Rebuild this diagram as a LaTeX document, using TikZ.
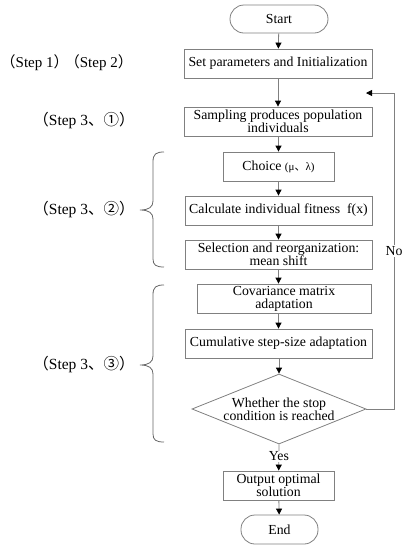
\documentclass[tikz,border=0pt]{standalone}
\usepackage{fontspec}
\setmainfont{Liberation Serif}
\newfontfamily\cjk{Noto Sans CJK SC}
\usetikzlibrary{arrows.meta,shapes.geometric}
\begin{document}
\begin{tikzpicture}[x=1pt,y=-1pt,
  font=\fontsize{13.8}{15}\selectfont,
  ln/.style={draw=black!50, line width=0.8pt},
  arr/.style={ln, -{Triangle[length=6pt,width=6pt,color=black]}},
  boxn/.style={draw=black!50, line width=0.8pt, rectangle, inner sep=0pt, minimum height=29pt, align=center},
  term/.style={draw=black!50, line width=0.8pt, rectangle, rounded corners=14pt, inner sep=0pt, minimum height=28pt},
  side/.style={inner sep=0pt, font=\fontsize{15.5}{17}\selectfont},
  brc/.style={draw=black!60, line width=0.8pt}
]
\useasboundingbox (0,0) rectangle (406,550);

\node[term, minimum width=98pt] (start) at (279,19) {Start};
\node[boxn, minimum width=188pt] (init) at (278,63.5) {Set parameters and Initialization};
\node[boxn, minimum width=188pt] (samp) at (278,121.5) {Sampling produces population\\[-2pt]individuals};
\node[boxn, minimum width=111pt] (choice) at (278.5,166.5) {Choice {\fontsize{11}{12}\selectfont(μ{\cjk 、}λ)}};
\node[boxn, minimum width=187pt] (calc) at (278.5,210.5) {Calculate individual fitness\ \ f(x)};
\node[boxn, minimum width=187pt] (sel) at (278.5,254.5) {Selection and reorganization:\\[-2pt]mean shift};
\node[boxn, minimum width=174pt] (cov) at (284,298.5) {Covariance matrix\\[-2pt]adaptation};
\node[boxn, minimum width=187pt] (cum) at (278.5,343.5) {Cumulative step-size adaptation};
\node[diamond, draw=black!50, line width=0.8pt, inner sep=0pt, minimum width=174pt, minimum height=70pt,
      label={[align=center]center:Whether the stop\\[-2pt]condition is reached}] (dec) at (279,409) {};
\node[boxn, minimum width=111pt] (out) at (278.5,485.5) {Output optimal\\[-2pt]solution};
\node[term, minimum width=77pt, minimum height=29pt] (end) at (279.5,529.5) {End};

\draw[arr] (start) -- (init);
\draw[arr] (init) -- (init|-samp.north);
\draw[arr] (samp.south-|choice) -- (choice);
\draw[arr] (choice) -- (calc);
\draw[arr] (calc) -- (sel);
\draw[arr] (sel.south) -- (sel.south|-cov.north);
\draw[arr] (cov.south-|cum) -- (cum.north);
\draw[arr] (cum.south-|dec) -- (dec.north);
\draw[arr] (dec.south) -- node[fill=white, inner sep=1pt, pos=0.45] (yes) {Yes} (out);
\draw[arr] (out) -- (end);

\coordinate (fbr) at (394,409);
\coordinate (fbt) at (394,93);
\coordinate (fbe) at (366,93);
\draw[arr] (dec.east) -- (fbr) -- node[fill=white, inner sep=1pt, pos=0.5] (no) {No} (fbt) -- (fbe);

\node[side, anchor=west, font=\fontsize{15}{17}\selectfont] (s12) at (0.5,63) {{\cjk （}Step 1{\cjk ）}\kern-0.25em{\cjk （}Step 2{\cjk ）}};
\node[side] (s31) at (84,121) {{\cjk （}Step 3{\cjk 、①）}};
\node[side] (s32) at (84,210) {{\cjk （}Step 3{\cjk 、②）}};
\node[side] (s33) at (84,365) {{\cjk （}Step 3{\cjk 、③）}};

\draw[brc] (164,152) .. controls (156,152) and (153,154) .. (153,162) -- (153,201)
  .. controls (153,207) and (149,210) .. (140,210) .. controls (149,210) and (153,213) .. (153,219)
  -- (153,259) .. controls (153,265) and (156,267) .. (164,267);
\draw[brc] (164,285) .. controls (156,285) and (153,287) .. (153,295) -- (153,356)
  .. controls (153,362) and (149,365) .. (140,365) .. controls (149,365) and (153,368) .. (153,374)
  -- (153,434) .. controls (153,440) and (156,442) .. (164,442);
\end{tikzpicture}
\end{document}
